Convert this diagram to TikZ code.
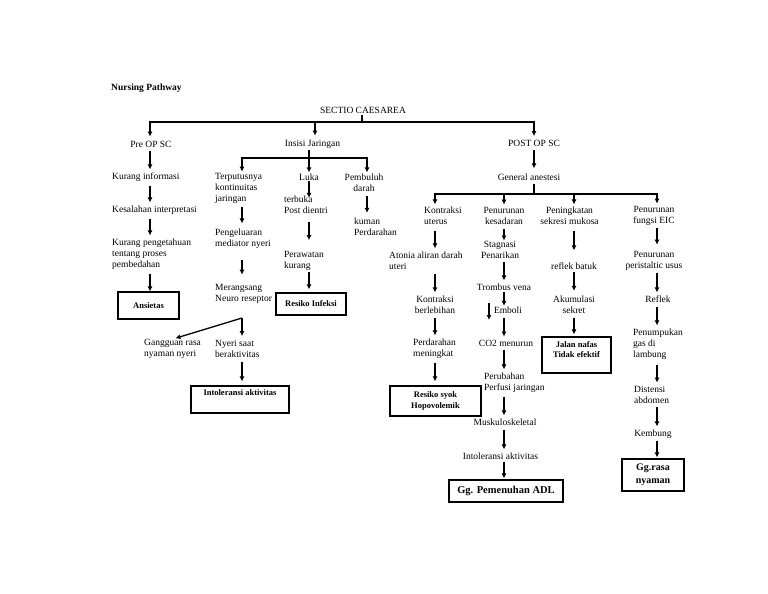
\documentclass[tikz,border=0pt]{standalone}
\usepackage{fontspec}
\setmainfont{Liberation Serif}
\usetikzlibrary{arrows.meta}

\begin{document}
\begin{tikzpicture}[x=1pt, y=-1pt,
    txt/.style={inner sep=0pt, font=\fontsize{9.5}{11}\selectfont},
    ltxt/.style={txt, align=left, anchor=west},
    ctxt/.style={txt, align=center},
    diagbox/.style={draw, line width=1.1pt, inner sep=1pt, align=center, font=\bfseries\fontsize{8.5}{10.5}\selectfont},
    arr/.style={-{Latex[length=5pt,width=5pt]}, line width=1.3pt, shorten <=4pt, shorten >=3pt},
    ln/.style={line width=1.3pt}]

    \fill[white] (0,0) rectangle (768,594);

    % columns
    \coordinate (xPre) at (150,0);
    \coordinate (xIns) at (315,0);
    \coordinate (xTer) at (242,0);
    \coordinate (xLuka) at (309,0);
    \coordinate (xPemb) at (367,0);
    \coordinate (xPost) at (534,0);
    \coordinate (xKon) at (435,0);
    \coordinate (xSadar) at (504,0);
    \coordinate (xMuk) at (574,0);
    \coordinate (xEic) at (657,0);

    \node[ltxt, font=\bfseries\fontsize{9.5}{11}\selectfont] (title) at (111,88) {Nursing Pathway};
    \node[ctxt] (sc) at (363,110) {SECTIO CAESAREA};
    \node[ctxt] (pre) at (151,144) {Pre OP SC};
    \node[ctxt] (ins) at (312.5,144) {Insisi Jaringan};
    \node[ctxt] (post) at (534,143) {POST OP SC};

    % pre op
    \node[ltxt] (kinfo) at (112,177) {Kurang informasi};
    \node[ltxt] (kesal) at (112,210) {Kesalahan interpretasi};
    \node[ltxt] (kpeng) at (112,254) {Kurang pengetahuan\\tentang proses\\pembedahan};
    \node[diagbox, minimum width=61pt, minimum height=27pt] (ansi) at (148.5,305.5) {Ansietas};

    % insisi jaringan
    \node[ltxt] (putus) at (215,188) {Terputusnya\\kontinuitas\\jaringan};
    \node[ctxt] (luka) at (309,177) {Luka};
    \node[ctxt] (pemb) at (364,182.5) {Pembuluh\\darah};
    \node[ltxt] (terbuka) at (284,204.5) {terbuka\\Post dientri};
    \node[ltxt] (kuman) at (354,227) {kuman\\Perdarahan};
    \node[ltxt] (media) at (215,238.5) {Pengeluaran\\mediator nyeri};
    \node[ltxt] (rawat) at (284,261) {Perawatan\\kurang};
    \node[ltxt] (neuro) at (215,293.5) {Merangsang\\Neuro reseptor};
    \node[diagbox, minimum width=70pt, minimum height=22pt] (infeksi) at (311,304) {Resiko Infeksi};
    \node[ltxt] (gnyeri) at (144,349) {Gangguan rasa\\nyaman nyeri};
    \node[ltxt] (nsaat) at (215,349) {Nyeri saat\\beraktivitas};
    \node[diagbox, minimum width=98pt, minimum height=27pt] (intol1) at (240,399.5) {Intoleransi aktivitas\\\strut};

    % post op
    \node[ctxt] (gen) at (529,177) {General anestesi};
    \node[ltxt] (kontr) at (424,215.5) {Kontraksi\\uterus};
    \node[ctxt] (sadar) at (504,215.5) {Penurunan\\kesadaran};
    \node[ctxt] (mukosa) at (569.5,215.5) {Peningkatan\\sekresi mukosa};
    \node[ctxt] (eic) at (654,215.5) {Penurunan\\fungsi EIC};

    \node[ltxt] (atonia) at (389,260.5) {Atonia aliran darah\\uteri};
    \node[ctxt] (lebih) at (435,304.5) {Kontraksi\\berlebihan};
    \node[ltxt] (darah) at (413,348.5) {Perdarahan\\meningkat};
    \node[diagbox, minimum width=91pt, minimum height=30pt] (syok) at (435.5,401) {Resiko syok\\Hopovolemik};

    \node[ctxt] (stag) at (500,249.5) {Stagnasi\\Penarikan};
    \node[ctxt] (tromb) at (504,287) {Trombus vena};
    \node[ctxt] (emboli) at (508,310) {Emboli};
    \node[ctxt] (co2) at (506,343) {CO2 menurun};
    \node[ltxt] (perfusi) at (484,382.5) {Perubahan\\Perfusi jaringan};
    \node[ctxt] (musk) at (505,422) {Muskuloskeletal};
    \node[ctxt] (intol2) at (500.5,456) {Intoleransi aktivitas};
    \node[diagbox, minimum width=114pt, minimum height=22pt, font=\bfseries\fontsize{10.5}{12}\selectfont] (adl) at (506,491) {Gg. Pemenuhan ADL};

    \node[ctxt] (batuk) at (574,266) {reflek batuk};
    \node[ctxt] (sekret) at (574,304.5) {Akumulasi\\sekret};
    \node[diagbox, minimum width=69pt, minimum height=36pt] (nafas) at (576.5,355) {Jalan nafas\\Tidak efektif\\\mbox{}};

    \node[ctxt] (peris) at (654,260.5) {Penurunan\\peristaltic usus};
    \node[ctxt] (reflek) at (658,299) {Reflek};
    \node[ltxt] (gas) at (633,344) {Penumpukan\\gas di\\lambung};
    \node[ltxt] (dist) at (634,394.5) {Distensi\\abdomen};
    \node[ctxt] (kemb) at (653,434) {Kembung};
    \node[diagbox, minimum width=62pt, minimum height=32pt, font=\bfseries\fontsize{10}{13}\selectfont] (nyaman) at (653,475) {Gg.rasa\\nyaman};

    % top branches
    \coordinate (j0) at (362,122);
    \draw[ln, shorten <=1.5pt] (sc.south -| j0) -- (j0);
    \draw[arr, shorten <=0pt, shorten >=4pt] (j0) -| (pre.north -| xPre);
    \draw[arr, shorten <=0pt, shorten >=4pt] (j0) -| (ins.north -| xIns);
    \draw[arr, shorten <=0pt, shorten >=3.5pt] (j0) -| (post.north -| xPost);

    % pre op
    \draw[arr] (pre.south -| xPre) -- (kinfo.north -| xPre);
    \draw[arr] (kinfo.south -| xPre) -- (kesal.north -| xPre);
    \draw[arr] (kesal.south -| xPre) -- (kpeng.north -| xPre);
    \draw[arr, shorten >=0pt] (kpeng.south -| xPre) -- (ansi.north -| xPre);

    % insisi jaringan
    \coordinate (j1) at (309,158);
    \draw[arr, shorten <=1.5pt, shorten >=1pt] (ins.south -| xLuka) -- (luka.north);
    \draw[arr, shorten <=0pt, shorten >=1pt] (j1) -| (putus.north -| xTer);
    \draw[arr, shorten <=0pt, shorten >=1pt] (j1) -| (pemb.north -| xPemb);
    \draw[arr, shorten >=5pt] (putus.south -| xTer) -- (media.north -| xTer);
    \draw[arr, shorten <=11pt, shorten >=9pt] (media.south -| xTer) -- (neuro.north -| xTer);
    \coordinate (j2) at (242,318);
    \draw[arr, shorten <=0pt] (j2) -- (gnyeri.north);
    \draw[arr, shorten <=0pt, shorten >=4pt] (j2) -- (nsaat.north -| xTer);
    \draw[arr, shorten >=4pt] (nsaat.south -| xTer) -- (intol1.north -| xTer);
    \draw[arr, shorten <=0.5pt, shorten >=-2.5pt] (luka.south) -- (terbuka.north -| xLuka);
    \draw[arr, shorten <=8pt, shorten >=11pt] (terbuka.south -| xLuka) -- (rawat.north -| xLuka);
    \draw[arr, shorten <=1.5pt] (rawat.south -| xLuka) -- (infeksi.north -| xLuka);
    \draw[arr, shorten >=5pt] (pemb.south -| xPemb) -- (kuman.north -| xPemb);

    % post op
    \draw[arr, shorten >=5pt] (post.south -| xPost) -- (gen.north -| xPost);
    \coordinate (j3) at (534,194);
    \draw[ln, shorten <=3pt] (gen.south -| xPost) -- (j3);
    \draw[arr, shorten <=0pt, shorten >=2pt] (j3) -| (kontr.north -| xKon);
    \draw[arr, shorten <=0pt, shorten >=2pt] (j3) -| (sadar.north -| xSadar);
    \draw[arr, shorten <=0pt, shorten >=2pt] (j3) -| (mukosa.north -| xMuk);
    \draw[arr, shorten <=0pt, shorten >=2pt] (j3) -| (eic.north -| xEic);

    \draw[arr, shorten <=6pt] (kontr.south -| xKon) -- (atonia.north -| xKon);
    \draw[arr] (atonia.south -| xKon) -- (lebih.north -| xKon);
    \draw[arr] (lebih.south -| xKon) -- (darah.north -| xKon);
    \draw[arr, shorten >=4pt] (darah.south -| xKon) -- (syok.north -| xKon);

    \draw[arr, shorten <=5pt, shorten >=0pt] (sadar.south -| xSadar) -- (stag.north -| xSadar);
    \draw[arr] (stag.south -| xSadar) -- (tromb.north -| xSadar);
    \draw[arr, shorten <=1.5pt, shorten >=0.5pt] (tromb.south -| xSadar) -- (emboli.north -| xSadar);
    \coordinate (jE) at (489,303);
    \coordinate (jE2) at (489,320);
    \draw[arr, shorten <=0pt, shorten >=0pt] (jE) -- (jE2);
    \draw[arr] (emboli.south -| xSadar) -- (co2.north -| xSadar);
    \draw[arr] (co2.south -| xSadar) -- (perfusi.north -| xSadar);
    \draw[arr] (perfusi.south -| xSadar) -- (musk.north -| xSadar);
    \draw[arr] (musk.south -| xSadar) -- (intol2.north -| xSadar);
    \draw[arr, shorten <=2pt, shorten >=1pt] (intol2.south -| xSadar) -- (adl.north -| xSadar);

    \draw[arr, shorten <=6pt, shorten >=12pt] (mukosa.south -| xMuk) -- (batuk.north -| xMuk);
    \draw[arr, shorten <=2.5pt, shorten >=4.5pt] (batuk.south -| xMuk) -- (sekret.north -| xMuk);
    \draw[arr, shorten >=2pt] (sekret.south -| xMuk) -- (nafas.north -| xMuk);

    \draw[arr, shorten <=2.5pt, shorten >=6pt] (eic.south -| xEic) -- (peris.north -| xEic);
    \draw[arr, shorten <=3pt] (peris.south -| xEic) -- (reflek.north -| xEic);
    \draw[arr] (reflek.south -| xEic) -- (gas.north -| xEic);
    \draw[arr, shorten <=5pt] (gas.south -| xEic) -- (dist.north -| xEic);
    \draw[arr] (dist.south -| xEic) -- (kemb.north -| xEic);
    \draw[arr, shorten <=2.5pt, shorten >=1pt] (kemb.south -| xEic) -- (nyaman.north -| xEic);
\end{tikzpicture}
\end{document}
